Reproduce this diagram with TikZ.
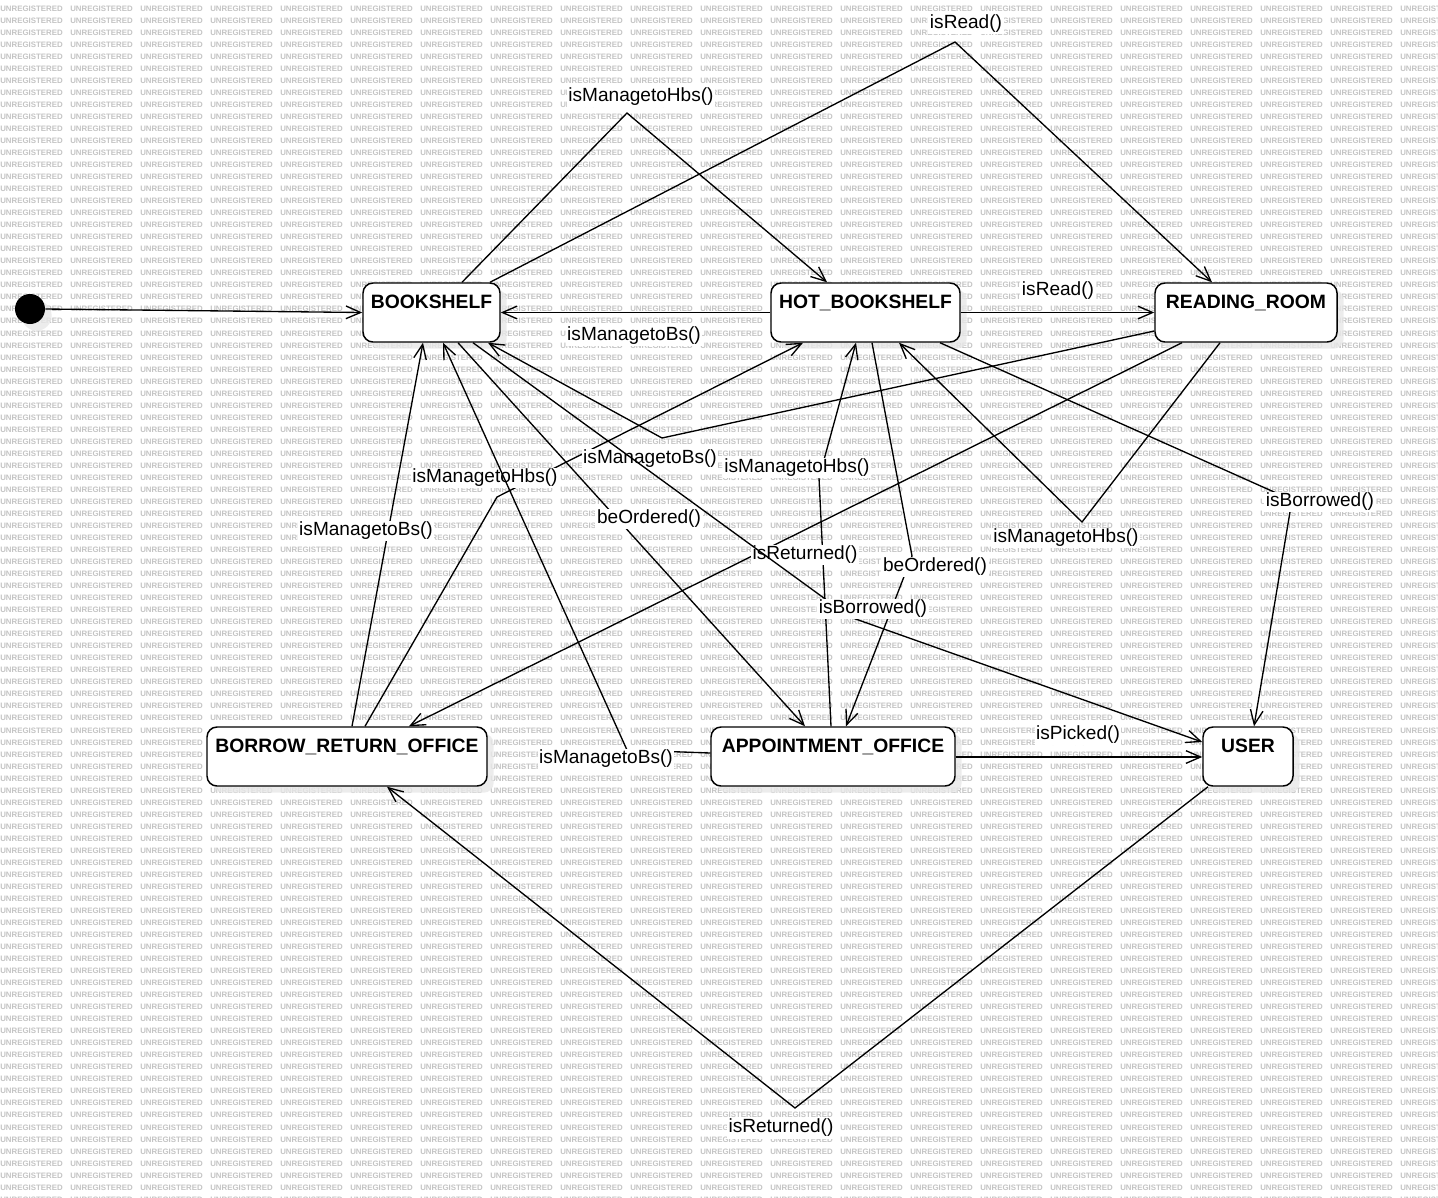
\documentclass[tikz,border=0pt]{standalone}
\usepackage{fontspec}
\setmainfont{Liberation Sans}
\usetikzlibrary{arrows.meta,shadows}
\tikzset{
  sh/.style={drop shadow={shadow xshift=5pt, shadow yshift=-5pt, fill=black!9, opacity=0.8}},
  state/.style={draw=black, line width=1.1pt, fill=white, rounded corners=7.5pt,
    inner sep=0pt, text height=18.75pt, text depth=25.5pt,
    font=\bfseries\fontsize{14.5}{17}\selectfont, sh},
  initst/.style={circle, fill=black, inner sep=0pt, minimum size=22.5pt, sh},
  trans/.style={draw=black, line width=1pt, line join=miter,
    -{Straight Barb[length=11pt,width=9.5pt,line width=1pt]}},
  lbl/.style={fill=white, inner sep=1.2pt, font=\fontsize{14.3}{17}\selectfont},
  wm/.style={anchor=west, inner sep=0pt, text=black!23, font=\bfseries\fontsize{5.9}{6}\selectfont},
}
\begin{document}
\begin{tikzpicture}[x=0.75pt,y=-0.75pt]
\useasboundingbox (0,0) rectangle (1438,1197);
\fill[white] (0,0) rectangle (1438,1197);
% watermark
\begin{scope}
\clip (0,0) rectangle (1438,1197);
\foreach \r in {0,...,99}{
  \foreach \c in {0,...,20}{
    \node[wm] (wm-\r-\c) at ({70*\c},{8.5+12.03*\r}) {UNREGISTERED};
  }
}
\end{scope}
% states
\node[initst] (init) at (30,309) {};
\node[state, minimum width={137*0.75pt}] (bs)   at (431.5,312.5) {BOOKSHELF};
\node[state, minimum width={189*0.75pt}] (hot)  at (865.5,312.5) {HOT\_BOOKSHELF};
\node[state, minimum width={182*0.75pt}] (rr)   at (1246,312.5) {READING\_ROOM};
\node[state, minimum width={280*0.75pt}] (bro)  at (347,756.5) {BORROW\_RETURN\_OFFICE};
\node[state, minimum width={244*0.75pt}] (appt) at (833,756.5) {APPOINTMENT\_OFFICE};
\node[state, minimum width={90*0.75pt}]  (user) at (1248,756.5) {USER};
% waypoints
\coordinate (w4) at (627,113);
\coordinate (w5) at (955,42);
\coordinate (w6) at (662,438);
\coordinate (w8) at (850,617);
\coordinate (w10) at (497,497);
\coordinate (w11) at (627,750);
\coordinate (w13) at (819,478);
\coordinate (w14) at (912,556);
\coordinate (w15) at (1082,522);
\coordinate (w16) at (1292,500);
\coordinate (w18) at (795,1108);
% transitions
\draw[trans] (init.east) -- (bs.west);
\draw[trans] (hot.west) -- (bs.east);
\draw[trans] (hot.east) -- (rr.west);
\draw[trans] (bs.north -| 462,0) -- (w4) -- (hot.north -| 827,0);
\draw[trans] (bs.north -| 490,0) -- (w5) -- (rr.north -| 1212,0);
\draw[trans] (rr.west |- 0,331) -- (w6) -- (bs.south -| 488,0);
\draw[trans] (bs.south -| 458,0) -- (appt.north -| 805,0);
\draw[trans] (bro.north -| 352,0) -- (bs.south -| 423,0);
\draw[trans] (bro.north -| 365,0) -- (w10) -- (hot.south -| 803,0);
\draw[trans] (rr.south -| 1182,0) -- (bro.north -| 409,0);
\draw[trans] (appt.north -| 831,0) -- (w13) -- (hot.south -| 856,0);
\draw[trans] (hot.south -| 872,0) -- (w14) -- (appt.north -| 846,0);
\draw[trans] (rr.south -| 1220,0) -- (w15) -- (hot.south -| 899,0);
\draw[trans] (hot.south -| 940,0) -- (w16) -- (user.north -| 1254,0);
\draw[trans] (appt.east |- 0,757) -- (user.west |- 0,757);
\draw[trans] (user.south -| 1208,0) -- (w18) -- (bro.south -| 387,0);
% labels (first layer)
\node[lbl] (l2)  at (634,336)  {isManagetoBs()};
\node[lbl] (l3)  at (1058,291) {isRead()};
\node[lbl] (l4)  at (641,97)   {isManagetoHbs()};
\node[lbl] (l5)  at (966,24)   {isRead()};
\node[lbl] (l6)  at (650,459)  {isManagetoBs()};
\node[lbl] (l7)  at (649,519)  {beOrdered()};
\node[lbl] (l9)  at (366,531)  {isManagetoBs()};
\node[lbl] (l10) at (485,478)  {isManagetoHbs()};
\node[lbl] (l12) at (805,555)  {isReturned()};
\node[lbl] (l13) at (797,468)  {isManagetoHbs()};
\node[lbl] (l14) at (935,567)  {beOrdered()};
\node[lbl] (l15) at (1066,538) {isManagetoHbs()};
\node[lbl] (l16) at (1320,502) {isBorrowed()};
\node[lbl] (l17) at (1078,735) {isPicked()};
\node[lbl] (l18) at (781,1128) {isReturned()};
% transitions drawn over earlier labels
\draw[trans] (bs.south -| 473,0) -- (w8) -- (user.west |- 0,742);
\draw[trans] (appt.west |- 0,753) -- (w11) -- (bs.south -| 443,0);
\node[lbl] (l8)  at (873,609)  {isBorrowed()};
\node[lbl] (l11) at (606,759)  {isManagetoBs()};
\end{tikzpicture}
\end{document}
